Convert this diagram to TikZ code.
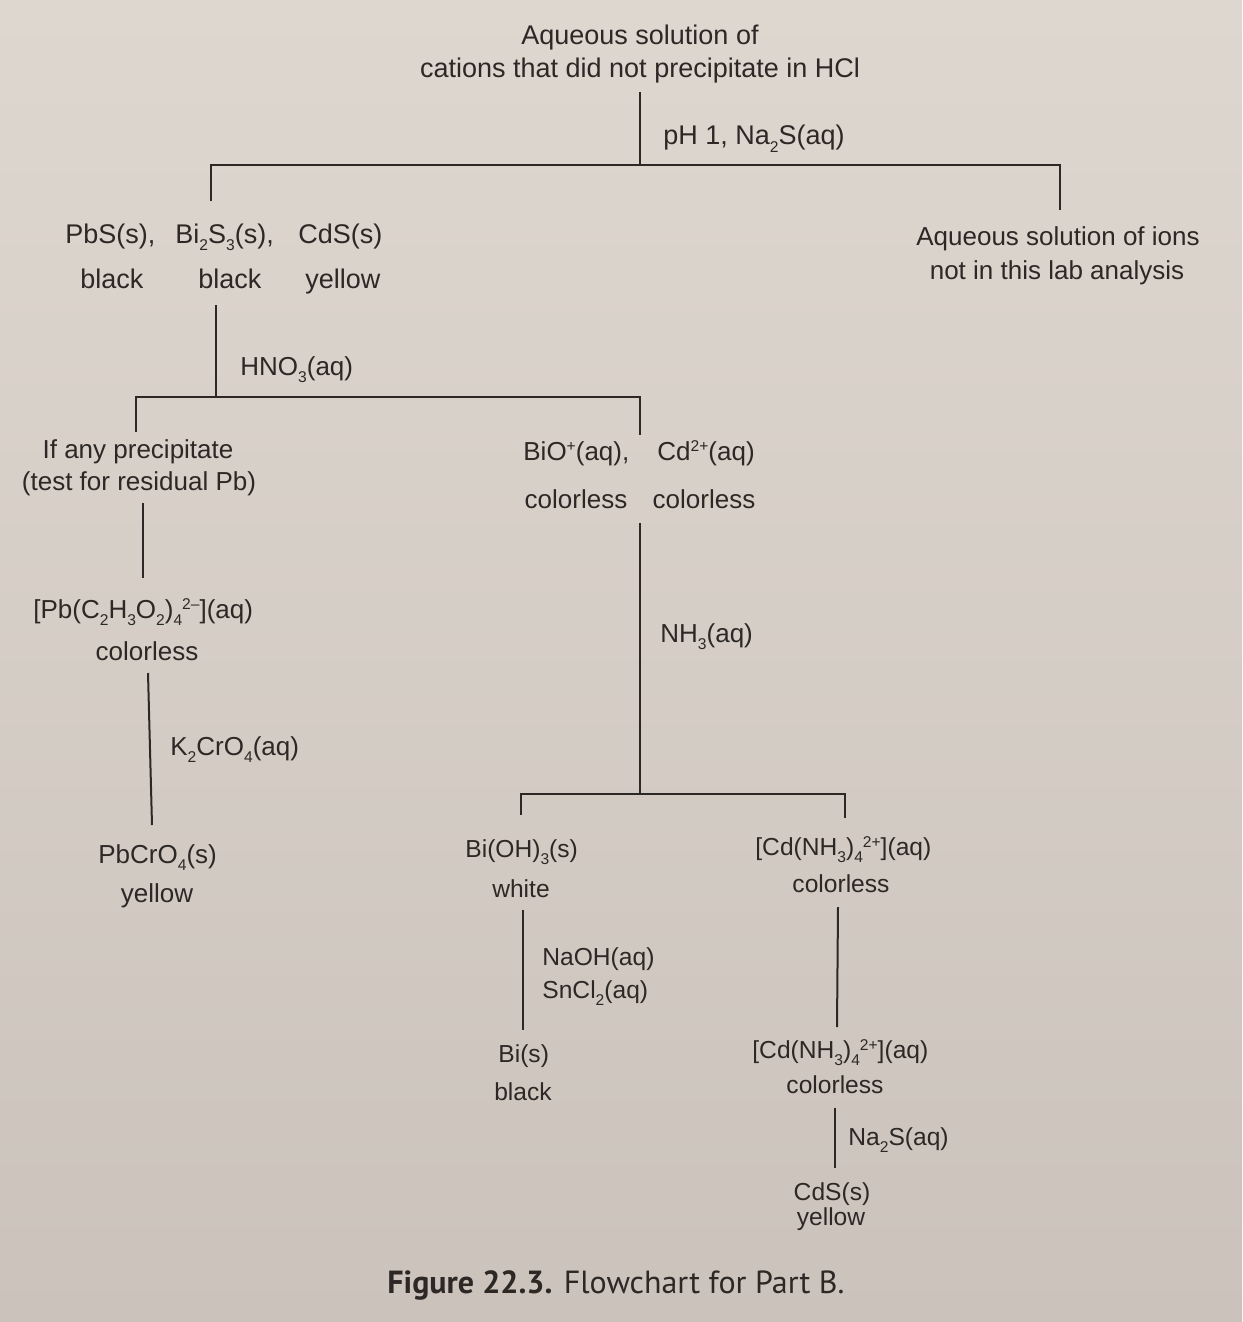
\documentclass[tikz,border=0pt]{standalone}
\usepackage{fontspec}
\setmainfont{Liberation Sans}
\newfontfamily\capfont{PT Sans}
\newcommand\sbs[1]{\raisebox{-0.55ex}{\fontsize{7.8}{8}\selectfont #1}}
\newcommand\sps[1]{\raisebox{0.6ex}{\fontsize{7.8}{8}\selectfont #1}}
\definecolor{ink}{RGB}{45,40,37}
\definecolor{paperA}{RGB}{222,215,208}
\definecolor{paperB}{RGB}{203,195,187}
\tikzset{
  lbl/.style={inner sep=0pt, text=ink, font=\fontsize{13}{16}\selectfont},
  lblbig/.style={lbl, font=\fontsize{13.5}{16}\selectfont},
  lblsm/.style={lbl, font=\fontsize{12.3}{15}\selectfont},
  W/.style={anchor=base west},
  C/.style={anchor=base},
  capstyle/.style={inner sep=0pt, text=ink, anchor=base, font=\capfont\fontsize{16}{19}\selectfont},
  wire/.style={draw=ink, line width=1pt}
}
\begin{document}
\begin{tikzpicture}[x=0.5pt,y=-0.5pt]
\shade[top color=paperA, bottom color=paperB] (0,0) rectangle (1242,1322);
\useasboundingbox (0,0) rectangle (1242,1322);

% texts
\node[lblbig,C] (top1) at (640,45) {Aqueous solution of};
\node[lblbig,C] (top2) at (640,78) {cations that did not precipitate in HCl};
\node[lblbig,W] (r1) at (663,145) {pH 1, Na\sbs{2}S(aq)};

\node[lblbig,W] (pbs) at (65,243) {PbS(s),};
\node[lblbig,W] (bis) at (175,243) {Bi\sbs{2}S\sbs{3}(s),};
\node[lblbig,W] (cds) at (298,243) {CdS(s)};
\node[lblbig,W] (pbsc) at (80,288) {black};
\node[lblbig,W] (bisc) at (198,288) {black};
\node[lblbig,W] (cdsc) at (305,288) {yellow};

\node[lbl,C] (aq1) at (1058,245) {Aqueous solution of ions};
\node[lbl,C] (aq2) at (1057,279) {not in this lab analysis};

\node[lbl,W] (r2) at (240,375) {HNO\sbs{3}(aq)};

\node[lbl,C] (prec1) at (138,458) {If any precipitate};
\node[lbl,C] (prec2) at (139,490) {(test for residual Pb)};
\node[lbl,W] (pbac) at (33,618) {[Pb(C\sbs{2}H\sbs{3}O\sbs{2})\sbs{4}\sps{2–}](aq)};
\node[lbl,C] (pbacc) at (147,660) {colorless};
\node[lbl,W] (r3) at (170,755) {K\sbs{2}CrO\sbs{4}(aq)};
\node[lbl,W] (pbcro) at (98,863) {PbCrO\sbs{4}(s)};
\node[lbl,C] (pbcroc) at (157,902) {yellow};

\node[lbl,W] (bio) at (523,460) {BiO\sps{+}(aq),};
\node[lbl,W] (cd) at (657,460) {Cd\sps{2+}(aq)};
\node[lbl,C] (bioc) at (576,508) {colorless};
\node[lbl,C] (cdc) at (704,508) {colorless};
\node[lbl,W] (r4) at (660,642) {NH\sbs{3}(aq)};

\node[lblsm,W] (bioh) at (465,857) {Bi(OH)\sbs{3}(s)};
\node[lblsm,C] (biohc) at (521,897) {white};
\node[lblsm,W] (cdam1) at (755,855) {[Cd(NH\sbs{3})\sbs{4}\sps{2+}](aq)};
\node[lblsm,C] (cdam1c) at (841,892) {colorless};

\node[lblsm,W] (r5) at (542,965) {NaOH(aq)};
\node[lblsm,W] (r6) at (542,998) {SnCl\sbs{2}(aq)};
\node[lblsm,W] (bi) at (498,1062) {Bi(s)};
\node[lblsm,C] (bic) at (523,1100) {black};

\node[lblsm,W] (cdam2) at (752,1058) {[Cd(NH\sbs{3})\sbs{4}\sps{2+}](aq)};
\node[lblsm,C] (cdam2c) at (835,1093) {colorless};
\node[lblsm,W] (r7) at (848,1145) {Na\sbs{2}S(aq)};
\node[lblsm,C] (cdsf) at (832,1200) {CdS(s)};
\node[lblsm,C] (cdsfc) at (831,1225) {yellow};

\node[capstyle] (cap) at (616,1293) {\textbf{Figure 22.3.} Flowchart for Part B.};

% junction coordinates
\coordinate (t1) at (640,92);
\coordinate (j1) at (640,165);
\coordinate (l1) at (211,201);
\coordinate (rr1) at (1060,210);
\coordinate (t2) at (216,305);
\coordinate (j2) at (216,397);
\coordinate (l2) at (136,432);
\coordinate (rr2) at (640,435);
\coordinate (t3a) at (143,503);
\coordinate (t3b) at (143,578);
\coordinate (t4a) at (148,673);
\coordinate (t4b) at (152,825);
\coordinate (t5) at (640,523);
\coordinate (j5) at (640,794);
\coordinate (l5) at (521,815);
\coordinate (rr5) at (845,818);
\coordinate (t6a) at (523,910);
\coordinate (t6b) at (523,1030);
\coordinate (t7a) at (838,907);
\coordinate (t7b) at (837,1027);
\coordinate (t8a) at (835,1108);
\coordinate (t8b) at (835,1168);

% connectors
\draw[wire] (t1) -- (j1);
\draw[wire] (l1) -- (l1 |- j1) -- (rr1 |- j1) -- (rr1);
\draw[wire] (t2) -- (j2);
\draw[wire] (l2) -- (l2 |- j2) -- (rr2 |- j2) -- (rr2);
\draw[wire] (t3a) -- (t3b);
\draw[wire] (t4a) -- (t4b);
\draw[wire] (t5) -- (j5);
\draw[wire] (l5) -- (l5 |- j5) -- (rr5 |- j5) -- (rr5);
\draw[wire] (t6a) -- (t6b);
\draw[wire] (t7a) -- (t7b);
\draw[wire] (t8a) -- (t8b);
\end{tikzpicture}
\end{document}
